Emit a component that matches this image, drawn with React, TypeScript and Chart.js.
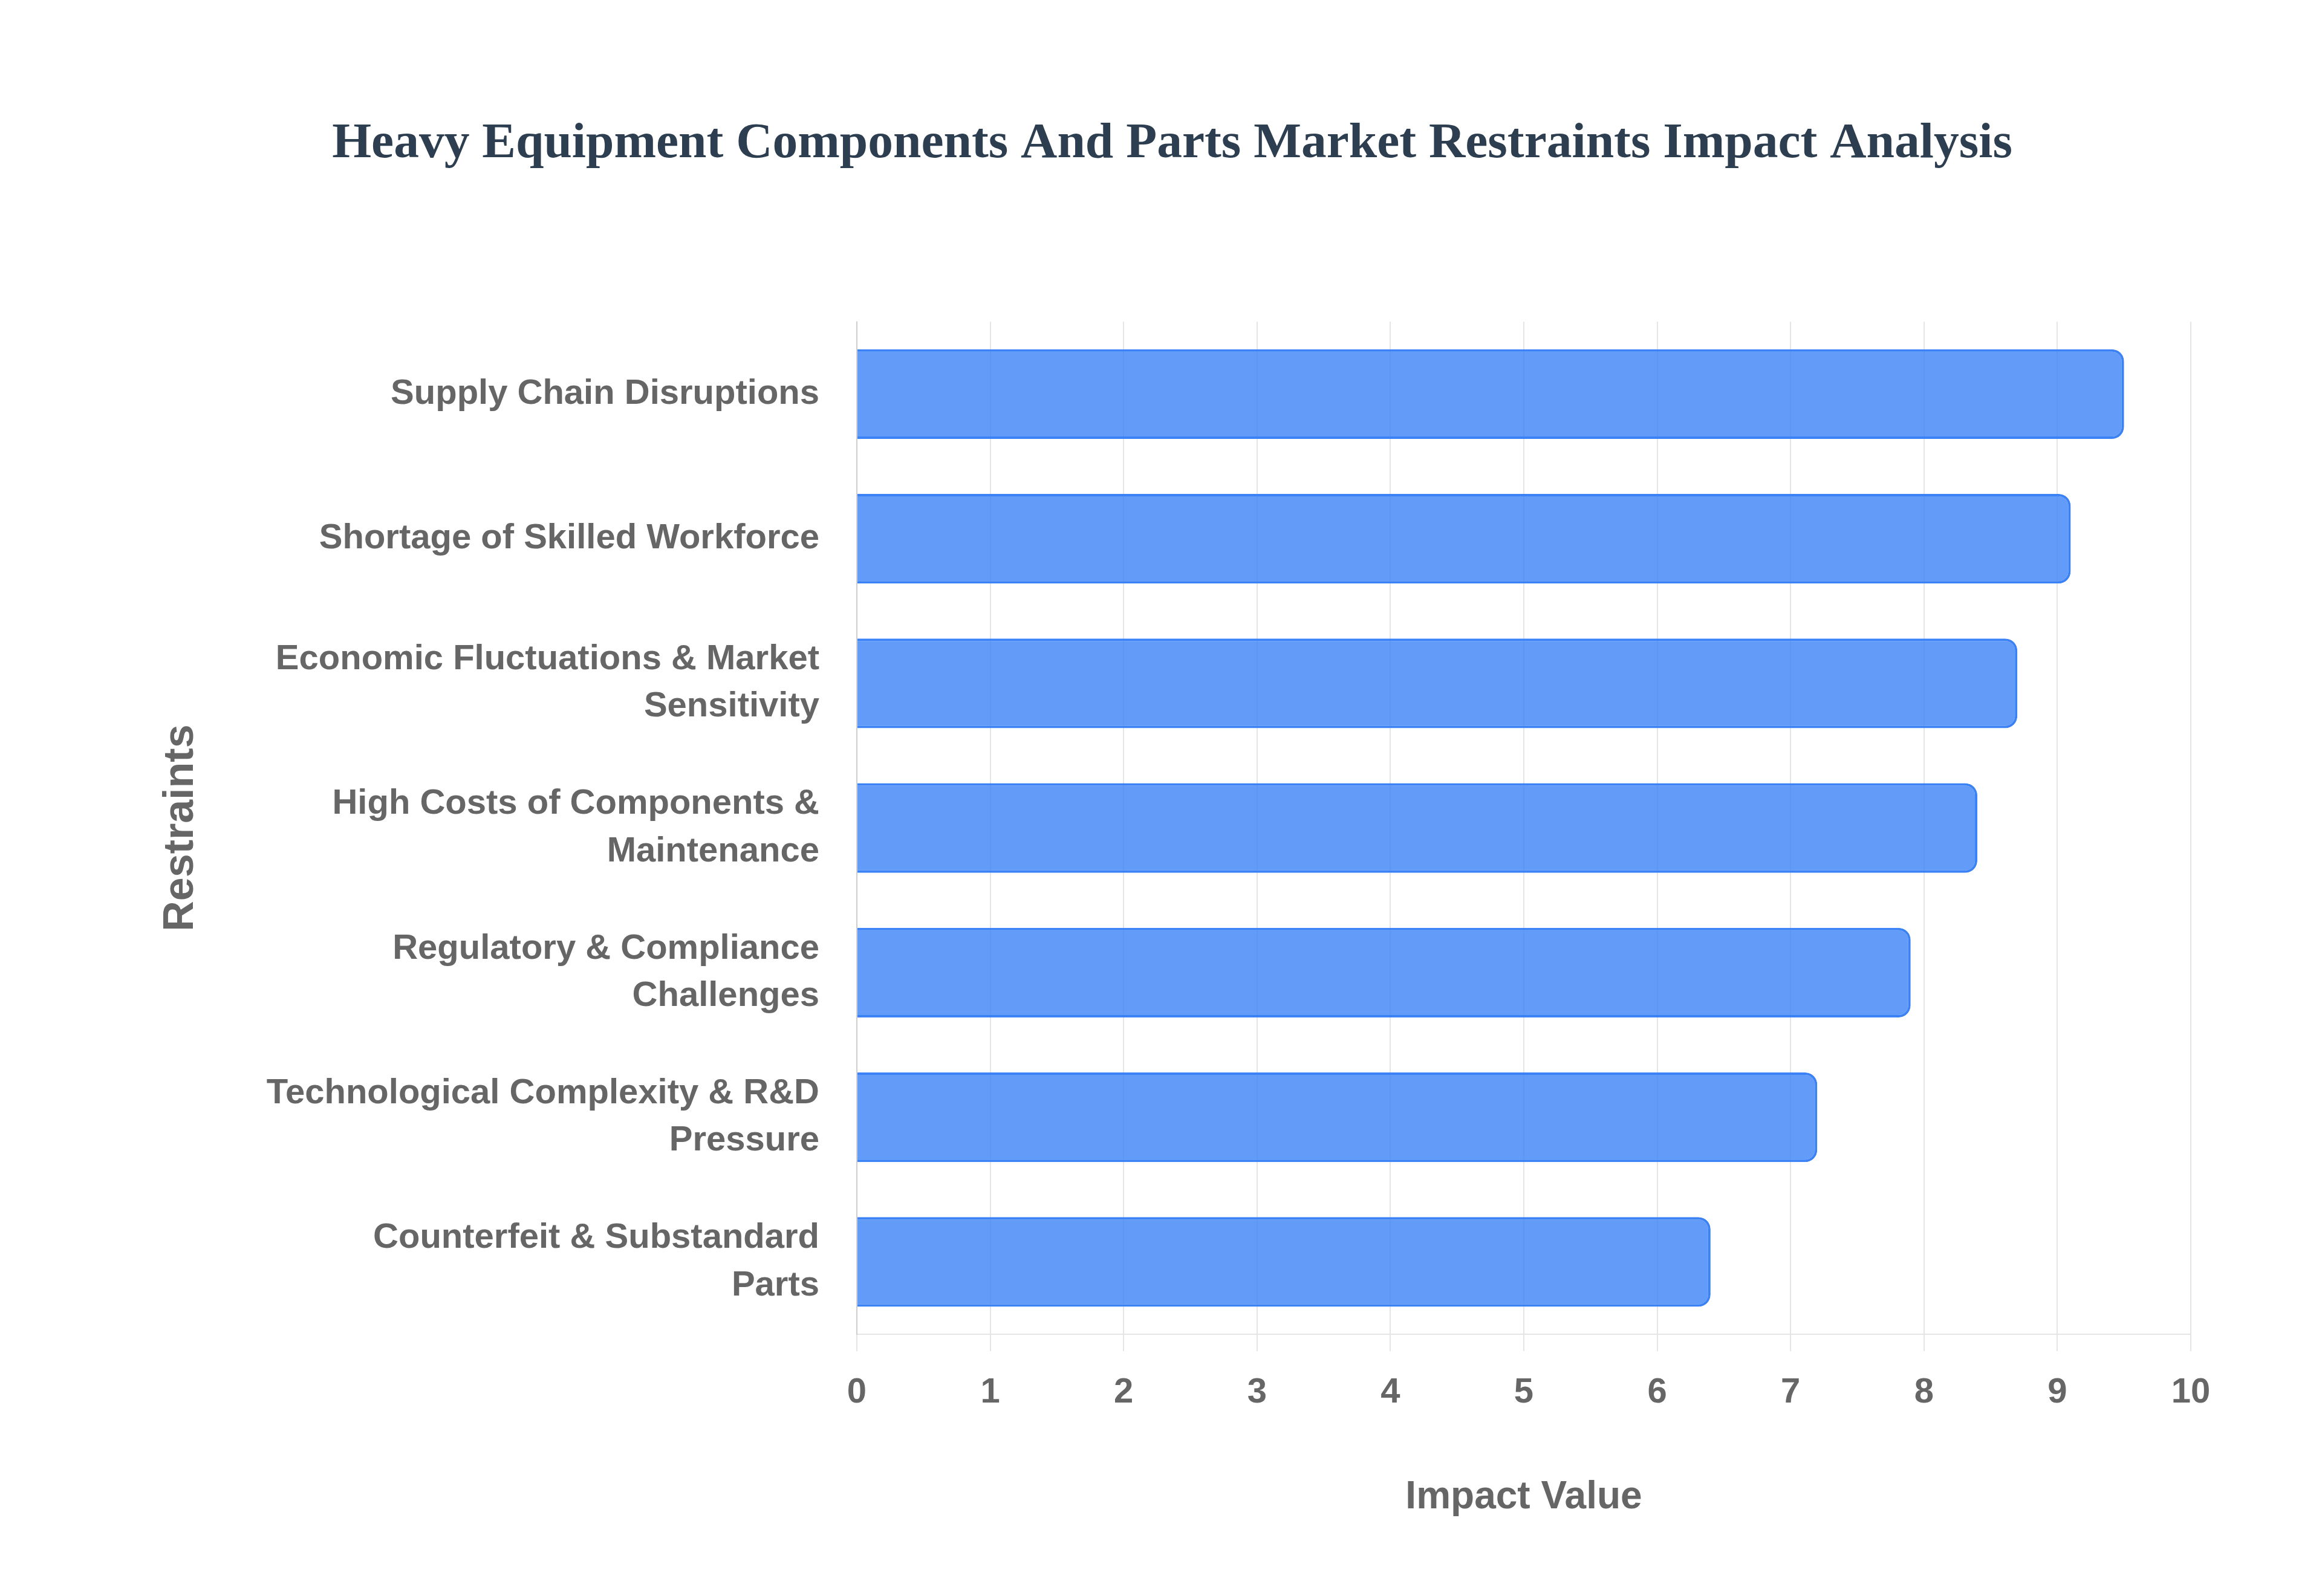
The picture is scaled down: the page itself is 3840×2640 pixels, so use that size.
import { useEffect, useRef } from "react"
import { Chart, registerables } from "chart.js"

Chart.register(...registerables)

// Restraint names (split over lines like the original axis labels)
const restraints: string[][] = [
  ["Supply Chain Disruptions"],
  ["Shortage of Skilled Workforce"],
  ["Economic Fluctuations & Market", "Sensitivity"],
  ["High Costs of Components &", "Maintenance"],
  ["Regulatory & Compliance", "Challenges"],
  ["Technological Complexity & R&D", "Pressure"],
  ["Counterfeit & Substandard", "Parts"],
]

// Impact value per restraint
const impactValues = [9.5, 9.1, 8.7, 8.4, 7.9, 7.2, 6.4]

const axisMin = 0
const axisMax = 10

const chartTitle = "Heavy Equipment Components And Parts Market Restraints Impact Analysis"
const xTitle = "Impact Value"
const yTitle = "Restraints"

const W = 3840
const H = 2640
const SANS = "'Liberation Sans', Arial, sans-serif"

export default function App() {
  const chartRef = useRef<HTMLCanvasElement>(null)
  const chartInstance = useRef<Chart | null>(null)

  useEffect(() => {
    document.body.style.margin = "0"
    if (!chartRef.current) return
    if (chartInstance.current) chartInstance.current.destroy()

    const ctx = chartRef.current.getContext("2d")
    if (!ctx) return

    chartInstance.current = new Chart(ctx, {
      type: "bar",
      data: {
        labels: restraints,
        datasets: [
          {
            label: "Impact",
            data: impactValues,
            backgroundColor: "rgba(59, 130, 246, 0.8)",
            borderColor: "rgb(59, 130, 246)",
            borderWidth: 4,
            borderRadius: 20,
            barPercentage: 0.775,
            categoryPercentage: 0.8,
          },
        ],
      },
      options: {
        indexAxis: "y",
        responsive: false,
        devicePixelRatio: 1,
        animation: false,
        layout: {
          padding: { top: 100, left: 254, right: 217, bottom: 100 },
        },
        plugins: {
          legend: { display: false },
          tooltip: { enabled: false },
          title: {
            display: true,
            text: chartTitle,
            color: "#2c3e50",
            font: { family: "'Liberation Serif', serif", size: 83.5, weight: "bold", lineHeight: 1.2 },
            padding: { top: 88, bottom: 244 },
          },
        },
        scales: {
          x: {
            min: axisMin,
            max: axisMax,
            afterFit: (scale) => {
              scale.height = 333
            },
            ticks: {
              stepSize: 1,
              color: "#666",
              padding: 34,
              font: { family: SANS, size: 58, weight: "bold", lineHeight: 1.2 },
            },
            grid: {
              color: "rgba(0, 0, 0, 0.1)",
              lineWidth: 2,
              tickLength: 28,
            },
            border: { color: "rgba(0, 0, 0, 0.1)", width: 2 },
            title: {
              display: true,
              text: xTitle,
              color: "#666",
              font: { family: SANS, size: 64, weight: "bold", lineHeight: 1.2 },
              padding: { top: 60, bottom: 24 },
            },
          },
          y: {
            afterFit: (scale) => {
              scale.width = 1163
            },
            ticks: {
              color: "#666",
              padding: 62,
              font: { family: SANS, size: 58, weight: "bold", lineHeight: 1.35 },
            },
            grid: { display: false, drawTicks: false },
            border: { color: "rgba(0, 0, 0, 0.1)", width: 2 },
            title: {
              display: true,
              text: yTitle,
              color: "#666",
              font: { family: SANS, size: 70, weight: "bold", lineHeight: 1.2 },
              padding: 4,
            },
          },
        },
      },
    })

    return () => {
      if (chartInstance.current) {
        chartInstance.current.destroy()
        chartInstance.current = null
      }
    }
  }, [])

  return (
    <div style={{ width: W, height: H, background: "#fff" }}>
      <canvas ref={chartRef} width={W} height={H} style={{ width: W, height: H }} />
    </div>
  )
}
